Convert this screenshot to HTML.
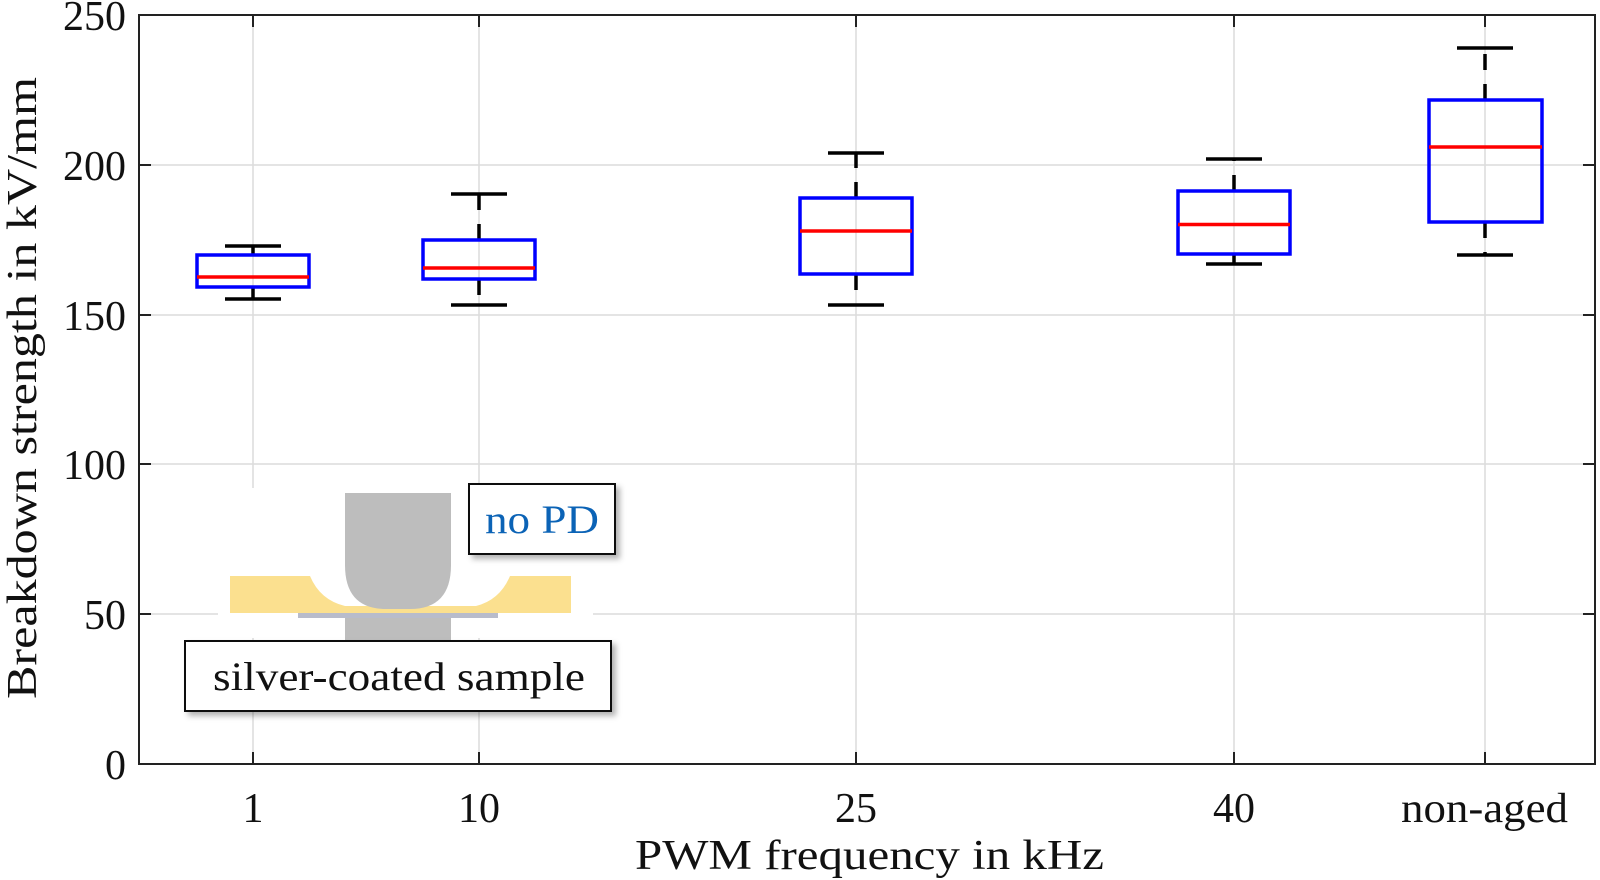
<!DOCTYPE html>
<html><head><meta charset="utf-8"><style>
html,body{margin:0;padding:0;background:#fff;}
svg{display:block;font-family:"Liberation Serif",serif;}
</style></head><body>
<svg width="1600" height="880" viewBox="0 0 1600 880" xmlns="http://www.w3.org/2000/svg">
<defs><filter id="sh" x="-10%" y="-10%" width="130%" height="140%"><feDropShadow dx="4" dy="4" stdDeviation="3" flood-color="#000" flood-opacity="0.3"/></filter></defs>
<g stroke="#dcdcdc" stroke-width="1.5">
<line x1="139" y1="165" x2="1595" y2="165"/><line x1="139" y1="315" x2="1595" y2="315"/>
<line x1="139" y1="464" x2="1595" y2="464"/><line x1="139" y1="614" x2="1595" y2="614"/>
<line x1="253" y1="15" x2="253" y2="764"/><line x1="479" y1="15" x2="479" y2="764"/>
<line x1="856" y1="15" x2="856" y2="764"/><line x1="1234" y1="15" x2="1234" y2="764"/>
<line x1="1485" y1="15" x2="1485" y2="764"/>
</g>
<g stroke="#222" stroke-width="2">
<line x1="253" y1="764" x2="253" y2="752"/><line x1="479" y1="764" x2="479" y2="752"/><line x1="856" y1="764" x2="856" y2="752"/><line x1="1234" y1="764" x2="1234" y2="752"/><line x1="1485" y1="764" x2="1485" y2="752"/>
<line x1="253" y1="15" x2="253" y2="27"/><line x1="479" y1="15" x2="479" y2="27"/><line x1="856" y1="15" x2="856" y2="27"/><line x1="1234" y1="15" x2="1234" y2="27"/><line x1="1485" y1="15" x2="1485" y2="27"/>
<line x1="139" y1="165" x2="151" y2="165"/><line x1="139" y1="315" x2="151" y2="315"/><line x1="139" y1="464" x2="151" y2="464"/><line x1="139" y1="614" x2="151" y2="614"/>
<line x1="1595" y1="165" x2="1583" y2="165"/><line x1="1595" y1="315" x2="1583" y2="315"/><line x1="1595" y1="464" x2="1583" y2="464"/><line x1="1595" y1="614" x2="1583" y2="614"/>
</g>
<g stroke-width="3.5" fill="none">
<g stroke="#000"><line x1="253" y1="255" x2="253" y2="246" stroke-dasharray="16 14"/><line x1="253" y1="287" x2="253" y2="299" stroke-dasharray="16 14"/><line x1="225" y1="246" x2="281" y2="246"/><line x1="225" y1="299" x2="281" y2="299"/></g>
<rect x="197" y="255" width="112" height="32" stroke="#0000ff"/><line x1="197" y1="277" x2="309" y2="277" stroke="#ff0000"/>
<g stroke="#000"><line x1="479" y1="240" x2="479" y2="194" stroke-dasharray="16 14"/><line x1="479" y1="279" x2="479" y2="305" stroke-dasharray="16 14"/><line x1="451" y1="194" x2="507" y2="194"/><line x1="451" y1="305" x2="507" y2="305"/></g>
<rect x="423" y="240" width="112" height="39" stroke="#0000ff"/><line x1="423" y1="268" x2="535" y2="268" stroke="#ff0000"/>
<g stroke="#000"><line x1="856" y1="198" x2="856" y2="153" stroke-dasharray="16 14"/><line x1="856" y1="274" x2="856" y2="305" stroke-dasharray="16 14"/><line x1="828" y1="153" x2="884" y2="153"/><line x1="828" y1="305" x2="884" y2="305"/></g>
<rect x="800" y="198" width="112" height="76" stroke="#0000ff"/><line x1="800" y1="231" x2="912" y2="231" stroke="#ff0000"/>
<g stroke="#000"><line x1="1234" y1="191" x2="1234" y2="159" stroke-dasharray="16 14"/><line x1="1234" y1="254" x2="1234" y2="264" stroke-dasharray="16 14"/><line x1="1206" y1="159" x2="1262" y2="159"/><line x1="1206" y1="264" x2="1262" y2="264"/></g>
<rect x="1178" y="191" width="112" height="63" stroke="#0000ff"/><line x1="1178" y1="224.5" x2="1290" y2="224.5" stroke="#ff0000"/>
<g stroke="#000"><line x1="1485" y1="100" x2="1485" y2="48" stroke-dasharray="16 14"/><line x1="1485" y1="222" x2="1485" y2="255" stroke-dasharray="16 14"/><line x1="1457" y1="48" x2="1513" y2="48"/><line x1="1457" y1="255" x2="1513" y2="255"/></g>
<rect x="1429" y="100" width="113" height="122" stroke="#0000ff"/><line x1="1429" y1="147" x2="1542" y2="147" stroke="#ff0000"/>
</g>
<rect x="218" y="488" width="375" height="150" fill="#fff"/>
<path d="M230 576 L310 576 Q320 600 345 606 L476 606 Q500 600 510 576 L571 576 L571 613 L230 613 Z" fill="#fbe08f"/>
<path d="M345 493 L451 493 L451 565 Q451 609 410 609 L386 609 Q345 609 345 565 Z" fill="#bdbdbd"/>
<rect x="298" y="613" width="200" height="5" fill="#b8bccb"/>
<rect x="345" y="618" width="106" height="25" fill="#bdbdbd"/>
<rect x="469" y="484" width="146" height="70" fill="#fff" stroke="#111" stroke-width="2" filter="url(#sh)"/>
<text x="485" y="533" font-size="40" fill="#0b63b6" textLength="114" lengthAdjust="spacingAndGlyphs">no PD</text>
<rect x="185" y="641" width="426" height="70" fill="#fff" stroke="#111" stroke-width="2" filter="url(#sh)"/>
<text x="213" y="690" font-size="40" fill="#111" textLength="372" lengthAdjust="spacingAndGlyphs">silver-coated sample</text>
<rect x="139" y="15" width="1456" height="749" fill="none" stroke="#222" stroke-width="2"/>
<g font-size="42" fill="#111" text-anchor="end">
<text x="126" y="779">0</text><text x="126" y="629">50</text><text x="126" y="479">100</text><text x="126" y="330">150</text><text x="126" y="180">200</text><text x="126" y="30">250</text>
</g>
<g font-size="42" fill="#111" text-anchor="middle">
<text x="253" y="822">1</text><text x="479" y="822">10</text><text x="856" y="822">25</text><text x="1234" y="822">40</text>
</g>
<g font-size="42" fill="#111">
<text x="1401" y="822" textLength="167" lengthAdjust="spacingAndGlyphs">non-aged</text>
<text x="635" y="869" textLength="469" lengthAdjust="spacingAndGlyphs">PWM frequency in kHz</text>
<text transform="translate(36,699) rotate(-90)" textLength="622" lengthAdjust="spacingAndGlyphs">Breakdown strength in kV/mm</text>
</g>
</svg>
</body></html>
